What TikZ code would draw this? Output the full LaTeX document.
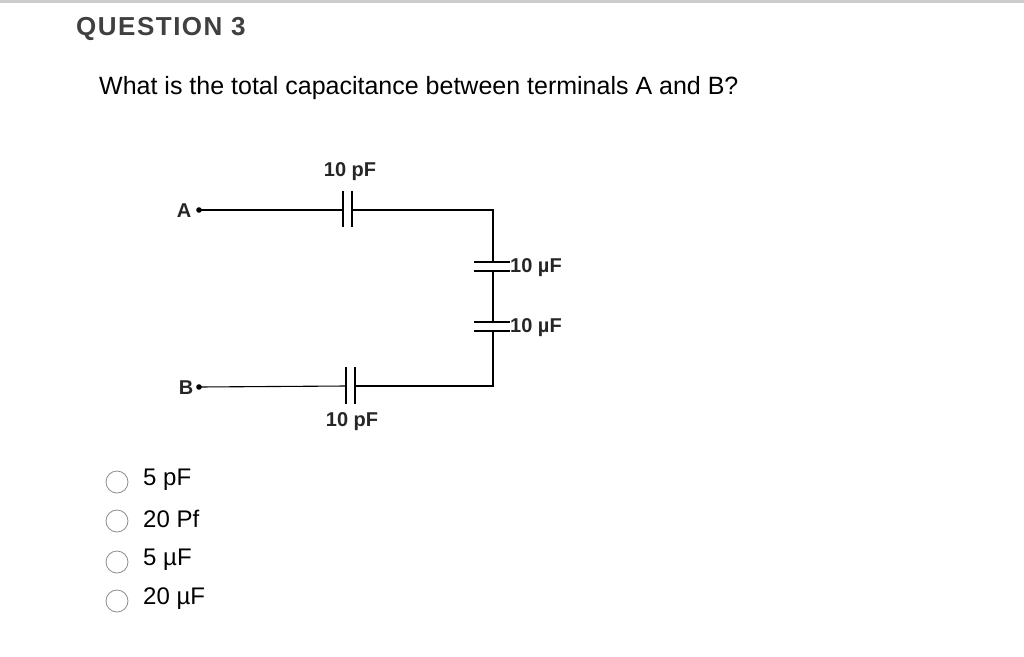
\documentclass[tikz,border=0pt]{standalone}
\usepackage{fontspec}
\setmainfont{Liberation Sans}
\begin{document}
\begin{tikzpicture}[x=1pt,y=-1pt,
  wire/.style={line width=1.1pt},
  plate/.style={line width=2pt},
  lab/.style={font=\fontsize{20}{20}\selectfont\bfseries, text=black!85},
  opt/.style={anchor=west,font=\fontsize{24}{24}\selectfont},
  radio/.style={circle,draw=black!45,fill=white,minimum size=22pt,inner sep=0pt,line width=0.8pt}]
\useasboundingbox (0,0) rectangle (1024,656);
\fill[black!20] (0,0) rectangle (1024,3);
\node[anchor=west,font=\fontsize{26}{26}\selectfont\bfseries,text=black!75,inner sep=0pt] (t) at (76,29) {Q\kern1.5pt U\kern1.5pt E\kern1.5pt S\kern1.5pt T\kern1.5pt I\kern1.5pt O\kern1.5pt N\kern1.5pt\ 3};
\node[anchor=west,font=\fontsize{25}{25}\selectfont,inner sep=0pt] (q) at (99,88) {What is the total capacitance between terminals A and B?};
% circuit
\node[lab] (A) at (184,211) {A};
\node[lab] (B) at (186,388) {B};
\fill (199,210) circle (2.8pt);
\fill (199,387) circle (2.8pt);
\coordinate (a) at (199,210);
\coordinate (b) at (199,387);
\coordinate (c1) at (343,210); \coordinate (c2) at (352,210);
\coordinate (tr) at (493,210);
\coordinate (d1) at (493,262); \coordinate (d2) at (493,271);
\coordinate (e1) at (493,322); \coordinate (e2) at (493,331);
\coordinate (br) at (493,386);
\coordinate (f1) at (355,386); \coordinate (f2) at (346,386);
\draw[wire] (a) -- (c1);
\draw[wire] (c2) -- (tr) -- (d1);
\draw[wire] (d2) -- (e1);
\draw[wire] (e2) -- (br) -- (f1);
\draw[wire] (f2) -- (b);
\draw[plate] (343,191) -- (343,227);
\draw[plate] (352,191) -- (352,227);
\draw[plate] (346,367) -- (346,404);
\draw[plate] (355,367) -- (355,404);
\draw[plate] (474,262) -- (510,262);
\draw[plate] (474,271) -- (510,271);
\draw[plate] (474,322) -- (510,322);
\draw[plate] (474,331) -- (510,331);
\node[lab] (l1) at (350,172) {10 pF};
\node[lab] (l2) at (352,422) {10 pF};
\node[lab,anchor=west,inner sep=0pt] (l3) at (510,268) {10 µF};
\node[lab,anchor=west,inner sep=0pt] (l4) at (510,328) {10 µF};
% options
\foreach \y/\t [count=\i] in {482/5 pF,521/20 Pf,562/5 µF,601/20 µF}{
  \node[radio] (r\i) at (117,\y) {};
  \node[opt,inner sep=0pt] (o\i) at (143,\y-2) {\t};
}
\end{tikzpicture}
\end{document}
